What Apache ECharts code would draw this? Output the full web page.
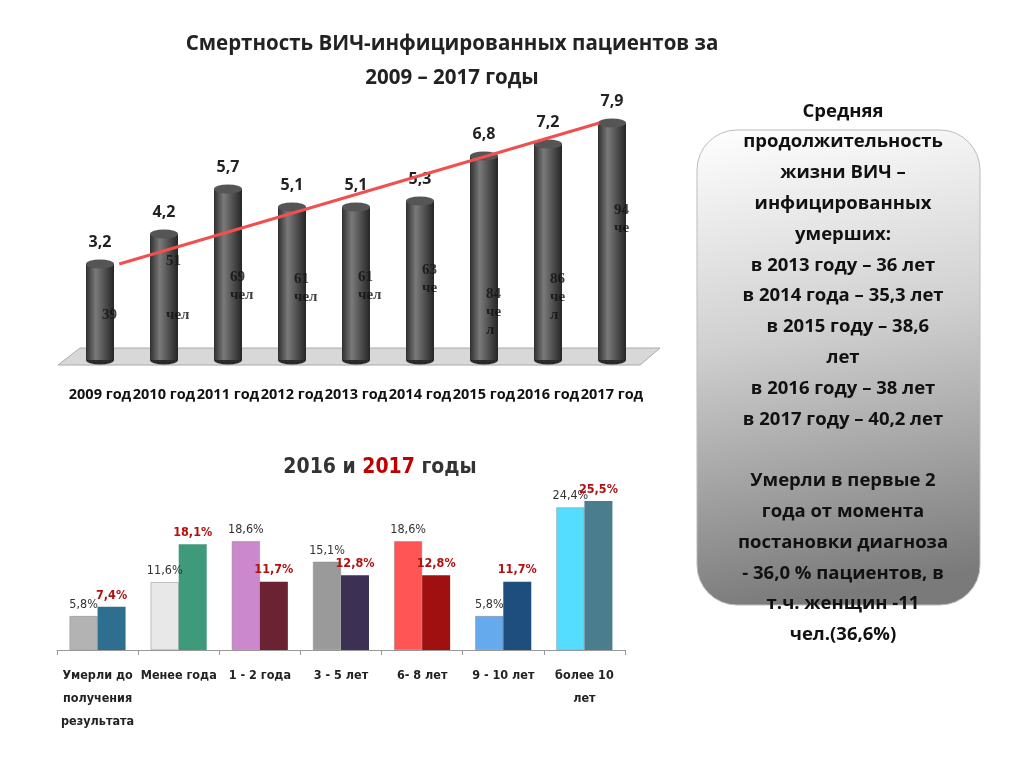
<!DOCTYPE html>
<html><head><meta charset="utf-8">
<script src="https://cdn.jsdelivr.net/npm/echarts@6/dist/echarts.min.js"></script>
<style>html,body{margin:0;background:#fff}#main{width:1024px;height:767px}</style>
</head><body><div id="main"></div>
<script>
var years = ['2009 год','2010 год','2011 год','2012 год','2013 год','2014 год','2015 год','2016 год','2017 год'];
var mortality = [3.2, 4.2, 5.7, 5.1, 5.1, 5.3, 6.8, 7.2, 7.9];
var innerText = ['39', '51\n\n\nчел', '69\nчел', '61\nчел', '61\nчел', '63\nче', '84\nче\nл', '86\nче\nл', '94\nче'];
var innerY = [1.5, 2.4, 2.45, 2.4, 2.45, 2.7, 1.6, 2.1, 4.7];
var trend = [[0.3, 3.2], [7.8, 7.9]];

var groups = ['Умерли до\nполучения\nрезультата', 'Менее года', '1 - 2 года', '3 - 5 лет', '6- 8 лет', '9 - 10 лет', 'более 10\nлет'];
var y2016 = [5.8, 11.6, 18.6, 15.1, 18.6, 5.8, 24.4];
var y2017 = [7.4, 18.1, 11.7, 12.8, 12.8, 11.7, 25.5];
var c2016 = ['#b3b3b3', '#e8e8e8', '#cc88cc', '#9a9a9a', '#ff5555', '#66aaee', '#55ddff'];
var c2017 = ['#2e6e8e', '#3e9a7a', '#6b2333', '#3d3055', '#a01010', '#1e4e7e', '#4a7e8e'];

var panelText = 'Средняя\nпродолжительность\nжизни ВИЧ –\nинфицированных\nумерших:\nв 2013 году – 36 лет\nв 2014 года – 35,3 лет\n  в 2015 году – 38,6\nлет\nв 2016 году – 38 лет\nв 2017 году – 40,2 лет\n\nУмерли в первые 2\nгода от момента\nпостановки диагноза\n- 36,0 % пациентов, в\nт.ч. женщин -11\nчел.(36,6%)';

var cyl = {type: 'linear', x: 0, y: 0, x2: 1, y2: 0, colorStops: [
  {offset: 0, color: '#303030'}, {offset: 0.35, color: '#7a7a7a'}, {offset: 1, color: '#252525'}]};
var narrow = '"DejaVu Sans Condensed", "Liberation Sans"';
function pct(p) { return String(p.value).replace('.', ',') + '%'; }

var chart = echarts.init(document.getElementById('main'));
chart.setOption({
  animation: false,
  textStyle: {fontFamily: 'Open Sans'},
  graphic: [
    {type: 'rect', shape: {x: 697, y: 130, width: 283, height: 475, r: 40},
     style: {fill: {type: 'linear', x: 0, y: 0, x2: 0.3, y2: 1, colorStops: [
       {offset: 0, color: '#ffffff'}, {offset: 0.45, color: '#d0d0d0'}, {offset: 1, color: '#7a7a7a'}]},
       stroke: '#bbbbbb'}, z: 0},
    {type: 'text', x: 843, y: 96, z: 5, style: {text: panelText, fill: '#111', font: 'bold 18.5px "Open Sans"', align: 'center', lineHeight: 30.8}},
    {type: 'text', x: 452, y: 27, z: 5, style: {text: 'Смертность ВИЧ-инфицированных пациентов за\n2009 – 2017 годы', fill: '#222', font: 'bold 20.5px "Open Sans"', align: 'center', lineHeight: 34}},
    {type: 'text', x: 380, y: 457, z: 5, style: {text: '{a|2016 и }{b|2017}{a| годы}', align: 'center',
      rich: {a: {fill: '#333', font: 'bold 21px ' + narrow}, b: {fill: '#c00000', font: 'bold 21px ' + narrow}}}},
    {type: 'polygon', z: 0, shape: {points: [[58, 365], [80, 348], [660, 348], [640, 365]]}, style: {fill: '#d8d8d8', stroke: '#aaa'}}
  ],
  grid: [
    {left: 68, top: 105, width: 576, height: 255},
    {left: 57, top: 501, width: 568, height: 149}
  ],
  xAxis: [
    {gridIndex: 0, type: 'category', data: years, axisLine: {show: false}, axisTick: {show: false},
     axisLabel: {margin: 27, fontWeight: 'bold', fontSize: 14.5, color: '#111', interval: 0}},
    {gridIndex: 0, type: 'value', min: -0.5, max: 8.5, show: false},
    {gridIndex: 1, type: 'category', data: groups, axisLine: {lineStyle: {color: '#999'}},
     axisTick: {show: true, lineStyle: {color: '#999'}}, splitLine: {show: false},
     axisLabel: {margin: 14, fontWeight: 'bold', fontSize: 12.5, color: '#222', interval: 0, lineHeight: 23, fontFamily: 'DejaVu Sans Condensed'}}
  ],
  yAxis: [
    {gridIndex: 0, type: 'value', min: 0, max: 8.5, show: false},
    {gridIndex: 0, type: 'value', min: 0, max: 8.5, show: false},
    {gridIndex: 1, type: 'value', min: 0, max: 25.5, show: false}
  ],
  series: [
    {type: 'bar', xAxisIndex: 0, yAxisIndex: 0, data: mortality, barWidth: 28, itemStyle: {color: cyl}, z: 3,
     label: {show: true, position: 'top', distance: 14, fontWeight: 'bold', fontSize: 16, color: '#222',
       formatter: function (p) { return String(p.value).replace('.', ','); }}},
    {type: 'pictorialBar', xAxisIndex: 0, yAxisIndex: 0, data: mortality, symbol: 'circle', symbolSize: [28, 9],
     symbolPosition: 'end', symbolOffset: [0, '-50%'], itemStyle: {color: '#555'}, z: 4},
    {type: 'pictorialBar', xAxisIndex: 0, yAxisIndex: 0, data: mortality, symbol: 'circle', symbolSize: [28, 9],
     symbolPosition: 'start', symbolOffset: [0, '50%'], itemStyle: {color: '#2a2a2a'}, z: 2},
    {type: 'scatter', xAxisIndex: 0, yAxisIndex: 0, symbolSize: 0, z: 6,
     data: innerY.map(function (v, i) { return {value: [years[i], v], label: {formatter: innerText[i]}}; }),
     label: {show: true, position: 'inside', color: '#111', fontSize: 15, fontWeight: 'bold', fontFamily: 'Liberation Serif', lineHeight: 18, align: 'left', offset: [2, 0]}},
    {type: 'line', xAxisIndex: 1, yAxisIndex: 1, data: trend, symbol: 'none', lineStyle: {color: '#f05050', width: 3}, z: 7},
    {type: 'bar', xAxisIndex: 2, yAxisIndex: 2, data: y2016.map(function (v, i) { return {value: v, itemStyle: {color: c2016[i]}}; }),
     barWidth: 28, barGap: '0%', itemStyle: {borderColor: '#888', borderWidth: 0.5},
     label: {show: true, position: 'top', color: '#333', fontSize: 12.5, fontFamily: 'DejaVu Sans Condensed', formatter: pct}},
    {type: 'bar', xAxisIndex: 2, yAxisIndex: 2, data: y2017.map(function (v, i) { return {value: v, itemStyle: {color: c2017[i]}}; }),
     barWidth: 28, barGap: '0%',
     label: {show: true, position: 'top', color: '#b01010', fontSize: 12.5, fontWeight: 'bold', fontFamily: 'DejaVu Sans Condensed', formatter: pct}}
  ]
});
</script></body></html>
